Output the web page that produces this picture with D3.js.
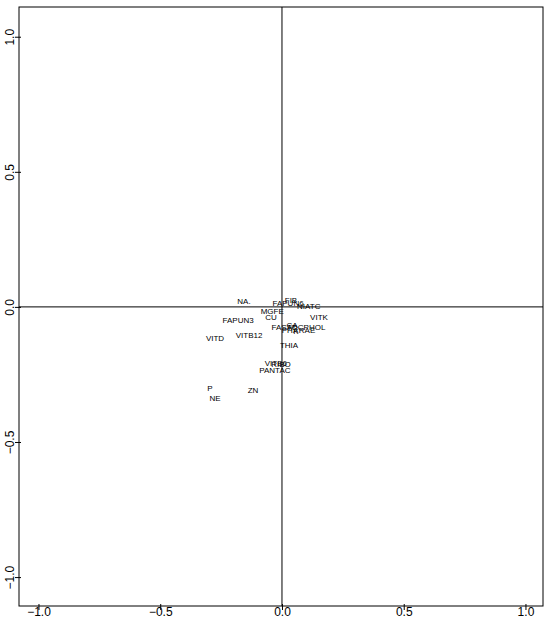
<!DOCTYPE html>
<html>
<head>
<meta charset="utf-8">
<script src="https://cdn.jsdelivr.net/npm/d3@7"></script>
<style>
  body { margin: 0; background: #fff; }
  text { font-family: "Liberation Sans", Arial, sans-serif; }
</style>
</head>
<body>
<svg id="plot" width="550" height="626"></svg>
<script>
// loadings (factor 1, factor 2)
var labels = ["NA.", "FAPUN3", "VITD", "VITB12", "P", "NE", "ZN", "MGFE", "CU", "FAPUN6", "FIB", "NIATC",
  "VITK", "FASAT", "CA", "TOCPHOL", "PHA", "K", "RAE", "THIA", "VITB6", "RIBO", "PANTAC"];
var xVals = [-0.156, -0.18, -0.275, -0.135, -0.296, -0.275, -0.119, -0.04, -0.045, 0.025, 0.037, 0.11,
  0.152, 0.008, 0.041, 0.099, 0.033, 0.057, 0.103, 0.029, -0.025, -0.004, -0.029];
var yVals = [0.022, -0.048, -0.115, -0.104, -0.30, -0.337, -0.307, -0.015, -0.037, 0.015, 0.026, 0.004,
  -0.037, -0.074, -0.067, -0.074, -0.085, -0.089, -0.085, -0.141, -0.207, -0.211, -0.233];
var tickVals = [-1.0, -0.5, 0.0, 0.5, 1.0];

var svg = d3.select("#plot");
var boxL = 19, boxR = 543, boxT = 7, boxB = 606;

var x = d3.scaleLinear().domain([-1.08, 1.072]).range([boxL, boxR]);
var y = d3.scaleLinear().domain([-1.107, 1.11]).range([boxB, boxT]);

// box
svg.append("rect")
  .attr("x", boxL).attr("y", boxT)
  .attr("width", boxR - boxL).attr("height", boxB - boxT)
  .attr("fill", "none").attr("stroke", "#000").attr("stroke-width", 1);

// reference lines at zero
svg.append("line")
  .attr("x1", x(0)).attr("x2", x(0)).attr("y1", boxT).attr("y2", boxB)
  .attr("stroke", "#000");
svg.append("line")
  .attr("x1", boxL).attr("x2", boxR).attr("y1", y(0)).attr("y2", y(0))
  .attr("stroke", "#000");

// axes
var fmt = d3.format(".1f");
var xAxis = d3.axisBottom(x).tickValues(tickVals).tickFormat(d => fmt(d).replace("-", "\u2212")).tickSize(6).tickSizeOuter(0);
var gx = svg.append("g").attr("transform", `translate(0, ${boxB - 2})`).call(xAxis);
gx.select(".domain").remove();
gx.selectAll("text").attr("dy", 0).attr("y", 12).attr("font-size", 12);

var yAxis = d3.axisLeft(y).tickValues(tickVals).tickFormat(d => fmt(d).replace("-", "\u2212")).tickSize(6).tickSizeOuter(0);
var gy = svg.append("g").attr("transform", `translate(${boxL + 2}, 0)`).call(yAxis);
gy.select(".domain").remove();
gy.selectAll("text")
  .attr("x", 0).attr("dy", 0).attr("y", 0)
  .attr("text-anchor", "middle")
  .attr("transform", "translate(-7,0) rotate(-90)")
  .attr("font-size", 12);

// variable labels
svg.append("g").selectAll("text")
  .data(labels)
  .enter()
  .append("text")
  .attr("x", (d, i) => x(xVals[i]))
  .attr("y", (d, i) => y(yVals[i]))
  .attr("dy", "0.35em")
  .attr("text-anchor", "middle")
  .attr("font-size", 8)
  .text(d => d);
</script>
</body>
</html>
